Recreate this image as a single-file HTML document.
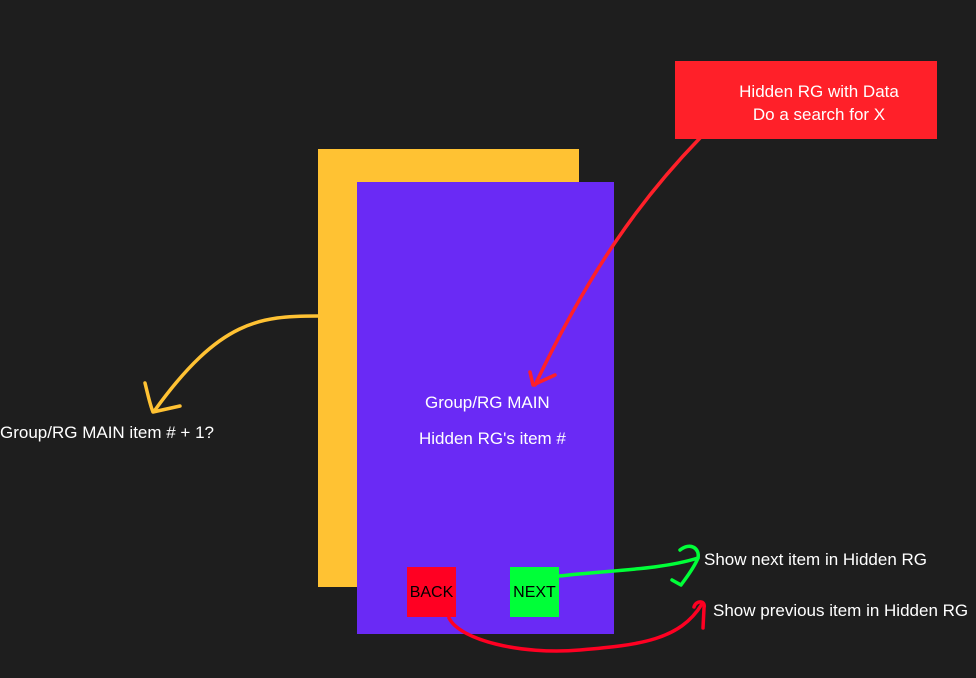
<!DOCTYPE html>
<html><head><style>
body{margin:0;width:976px;height:678px;background:#1e1e1e;position:relative;overflow:hidden;font-family:"Liberation Sans",sans-serif}
.a{position:absolute}
.t{position:absolute;color:#fff;font-size:17px;white-space:nowrap}
</style></head><body>
<div class="a" style="left:318px;top:149px;width:261px;height:438px;background:#ffc233"></div>
<div class="a" style="left:357px;top:182px;width:257px;height:452px;background:#6a2af5"></div>
<div class="a" style="left:675px;top:61px;width:262px;height:78px;background:#ff2029"></div>
<div class="t" style="left:688px;top:80px;width:262px;text-align:center;line-height:23px">Hidden RG with Data<br>Do a search for X</div>
<div class="t" style="left:425px;top:393px">Group/RG MAIN</div>
<div class="t" style="left:419px;top:429px">Hidden RG's item #</div>
<div class="t" style="left:0px;top:423px">Group/RG MAIN item # + 1?</div>
<div class="t" style="left:704px;top:550px">Show next item in Hidden RG</div>
<div class="t" style="left:713px;top:601px">Show previous item in Hidden RG</div>
<div class="a" style="left:407px;top:567px;width:49px;height:50px;background:#ff0022;color:#000;font-size:16px;line-height:52px;text-align:center">BACK</div>
<div class="a" style="left:510px;top:567px;width:49px;height:50px;background:#00ff38;color:#000;font-size:16px;line-height:52px;text-align:center">NEXT</div>
<svg class="a" style="left:0;top:0" width="976" height="678" fill="none" stroke-linecap="round" stroke-linejoin="round" stroke-width="3.5">
<path d="M318 316 C260 316 220 320 155 410" stroke="#ffc233"/>
<path d="M145 383 C148 395 150 405 153 412 L180 406" stroke="#ffc233"/>
<path d="M700 138 C640 200 590 270 535 385" stroke="#ff2029"/>
<path d="M530 372 L533 385 L555 375" stroke="#ff2029"/>
<path d="M559 576 C610 570 660 570 698 558" stroke="#00ff38"/>
<path d="M680 550 C690 542 700 548 698 558 C694 568 686 578 681 585 L672 580" stroke="#00ff38"/>
<path d="M449 618 C460 640 520 655 580 650 C640 645 680 640 702 604" stroke="#ff0022"/>
<path d="M694 607 C696 600 706 600 704 608 L703 628" stroke="#ff0022"/>
</svg>
</body></html>
